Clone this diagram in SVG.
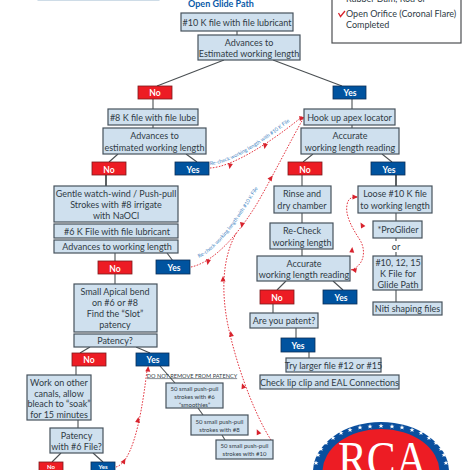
<svg xmlns="http://www.w3.org/2000/svg" xmlns:xlink="http://www.w3.org/1999/xlink" width="470" height="470" viewBox="0 0 470 470">
<style>
text{font-family:Lato,"Open Sans","Liberation Sans",sans-serif;fill:#2f3b45;font-size:9px;text-anchor:middle}
.b{fill:#cfe0ee;stroke:#46525c;stroke-width:1.200}
.no{fill:#ed1c24;stroke:#7a1a1c;stroke-width:.8}
.yes{fill:#00539f;stroke:#0c2d55;stroke-width:.8}
.t{font-weight:700;fill:#fff;font-size:8.500px}
.s{font-size:6px}
.c line{stroke:#4a4f52;stroke-width:1.100}
.d{fill:none;stroke:#e0202c;stroke-width:.9;stroke-dasharray:1.600 1.400}
.a{fill:#d8232d}
.rt{font-size:5.200px;fill:#3f86c4;text-anchor:start}
</style>
<defs>
<path id="ar" class="a" d="M-2.500 -2.500L3 0L-2.500 2.500Z"/>
<path id="st" fill="#fff" d="M0-2.600L.7-.8L2.500-.8L1.100.3L1.600 2.100L0 1L-1.600 2.100L-1.100.3L-2.500-.8L-.7-.8Z"/>
<path id="p1" d="M210 165C232 164 268 140 300 113"/>
<path id="p2" d="M199 258C222 246 240 218 268 172"/>
</defs>
<rect width="470" height="470" fill="#fff"/>
<rect id="topbar" x="38" y="-10" width="121" height="10" fill="#e6eff6" stroke="#9db9cf"/>
<g id="legend">
<rect x="332" y="-20" width="129" height="63" fill="#fff" stroke="#4d4f52" stroke-width="1.200"/>
<text x="346" y="2" style="text-anchor:start">Rubber Dam, Rod or</text>
<text x="346" y="17" style="text-anchor:start">Open Orifice (Coronal Flare)</text>
<text x="346" y="28" style="text-anchor:start">Completed</text>
<path d="M338.500 13L340.500 16.500L345 11" fill="none" stroke="#d8232d" stroke-width="1.300"/>
</g>
<text id="title" x="221" y="7" style="font-weight:700;fill:#0a5aa8;font-size:9px">Open Glide Path</text>
<g class="c" id="connectors">
<line x1="237" y1="31" x2="237" y2="35"/><line x1="224" y1="60" x2="157" y2="86"/><line x1="273" y1="60" x2="342" y2="86"/>
<line x1="153" y1="99" x2="153" y2="109"/><line x1="352" y1="99" x2="352" y2="109"/><line x1="153" y1="125" x2="153" y2="128"/><line x1="352" y1="125" x2="352" y2="128"/>
<line x1="118" y1="154" x2="109" y2="162"/><line x1="186" y1="154" x2="197" y2="162"/><line x1="313" y1="154" x2="303" y2="162"/><line x1="382" y1="154" x2="392" y2="162"/>
<line x1="106" y1="175" x2="106" y2="186" style="stroke-width:1.800px"/><line x1="302" y1="175" x2="302" y2="186"/><line x1="396" y1="175" x2="396" y2="186" style="stroke-width:1.800px"/>
<line x1="302" y1="213" x2="302" y2="223"/><line x1="302" y1="249" x2="302" y2="256"/><line x1="396" y1="213" x2="396" y2="221"/><line x1="396" y1="238" x2="396" y2="241"/><line x1="396" y1="252" x2="396" y2="256"/><line x1="396" y1="290" x2="396" y2="302"/>
<line x1="115" y1="253" x2="115" y2="261"/><line x1="167" y1="253" x2="173" y2="261"/><line x1="115" y1="274" x2="115" y2="284"/>
<line x1="90" y1="347" x2="80" y2="353"/><line x1="136" y1="347" x2="150" y2="353"/><line x1="76" y1="366" x2="76" y2="375"/><line x1="78" y1="420" x2="78" y2="428"/>
<line x1="61" y1="453" x2="52" y2="462"/><line x1="93" y1="453" x2="103" y2="462"/>
<line x1="160" y1="366" x2="175" y2="383"/><line x1="198" y1="408" x2="203" y2="415"/><line x1="222" y1="435" x2="225" y2="440"/>
<line x1="286" y1="281" x2="277" y2="290"/><line x1="333" y1="281" x2="343" y2="290"/><line x1="273" y1="304" x2="273" y2="313"/><line x1="296" y1="328" x2="296" y2="338"/><line x1="309" y1="352" x2="309" y2="358"/>
<path class="d" d="M210 168C232 167 270 143 303 116"/>
<path class="d" d="M191 267C215 262 240 232 258 202C275 172 290 142 303 119"/>
<path class="d" d="M271 440C255 415 238 370 229 330C222 300 220 260 237 232"/>
<path class="d" d="M351 270C365 265 366 250 360 240C352 228 345 215 347 205C348 198 352 197 357 197"/>
<path class="d" d="M116 467C130 463 140 430 147 370"/>
<use xlink:href="#ar" transform="translate(230 166) rotate(100)"/>
<use xlink:href="#ar" transform="translate(265 146) rotate(100)"/>
<use xlink:href="#ar" transform="translate(302 118) rotate(-10)"/>
<use xlink:href="#ar" transform="translate(208 262) rotate(100)"/>
<use xlink:href="#ar" transform="translate(242 225) rotate(100)"/>
<use xlink:href="#ar" transform="translate(271 178) rotate(-55)"/>
<use xlink:href="#ar" transform="translate(223 279) rotate(-90)"/>
<use xlink:href="#ar" transform="translate(231 334) rotate(-100)"/>
<use xlink:href="#ar" transform="translate(243 386) rotate(-110)"/>
<use xlink:href="#ar" transform="translate(258 432) rotate(-115)"/>
<use xlink:href="#ar" transform="translate(354 270) rotate(190)"/>
<use xlink:href="#ar" transform="translate(352 250) rotate(-85)"/>
<use xlink:href="#ar" transform="translate(362 225) rotate(-120)"/>
<use xlink:href="#ar" transform="translate(355 197)"/>
<use xlink:href="#ar" transform="translate(124 461) rotate(-60)"/>
<use xlink:href="#ar" transform="translate(138 420) rotate(-80)"/>
<use xlink:href="#ar" transform="translate(148 369) rotate(-85)"/>
</g>
<g class="rts">
<text class="rt"><textPath xlink:href="#p1">Re-check working length with #10 K File</textPath></text>
<text class="rt"><textPath xlink:href="#p2">Re-check working length with #10 K File</textPath></text>
</g>
<g id="n1"><rect class="b" x="181" y="13" width="112" height="18"/><text x="237" y="25.500">#10 K file with file lubricant</text></g>
<g id="n2"><rect class="b" x="198" y="35" width="102" height="25"/><text x="249" y="45.500">Advances to</text><text x="249" y="56.500">Estimated working length</text></g>
<g id="n3"><rect class="no" x="138" y="86" width="34" height="13"/><text class="t" x="155" y="96">No</text></g>
<g id="n4"><rect class="yes" x="333" y="86" width="33" height="13"/><text class="t" x="350" y="96">Yes</text></g>
<g id="n5"><rect class="b" x="108" y="109" width="90" height="16"/><text x="153" y="120.500">#8 K file with file lube</text></g>
<g id="n6"><rect class="b" x="304" y="109" width="91" height="16"/><text x="349.500" y="120.500">Hook up apex locator</text></g>
<g id="n7"><rect class="b" x="103" y="128" width="103" height="26"/><text x="154.500" y="139">Advances to</text><text x="154.500" y="151">estimated working length</text></g>
<g id="n8"><rect class="b" x="301" y="128" width="98" height="26"/><text x="350" y="139">Accurate</text><text x="350" y="151">working length reading</text></g>
<g id="n9"><rect class="no" x="92" y="162" width="34" height="13"/><text class="t" x="109" y="173">No</text></g>
<g id="n10"><rect class="yes" x="175" y="162" width="34" height="13"/><text class="t" x="193" y="173">Yes</text></g>
<g id="n11"><rect class="no" x="288" y="162" width="34" height="13"/><text class="t" x="305" y="173">No</text></g>
<g id="n12"><rect class="yes" x="371" y="162" width="34" height="13"/><text class="t" x="389" y="173">Yes</text></g>
<g id="n13"><rect class="b" x="54" y="186" width="124" height="36"/><text x="116" y="197">Gentle watch-wind / Push-pull</text><text x="116" y="208">Strokes with #8 irrigate</text><text x="116" y="219">with NaOCl</text></g>
<g id="n14"><rect class="b" x="54" y="224" width="124" height="14"/><text x="117" y="234.500">#6 K File with file lubricant</text></g>
<g id="n15"><rect class="b" x="54" y="240" width="124" height="13"/><text x="117" y="250">Advances to working length</text></g>
<g id="n16"><rect class="no" x="98" y="261" width="34" height="13"/><text class="t" x="115" y="271.500">No</text></g>
<g id="n17"><rect class="yes" x="156" y="260" width="34" height="14"/><text class="t" x="174" y="271">Yes</text></g>
<g id="n18"><rect class="b" x="274" y="186" width="57" height="27"/><text x="302" y="197">Rinse and</text><text x="302" y="208.500">dry chamber</text></g>
<g id="n19"><rect class="b" x="358" y="186" width="74" height="27"/><text x="395" y="197">Loose #10 K file</text><text x="395" y="208.500">to working length</text></g>
<g id="n20"><rect class="b" x="270" y="223" width="63" height="26"/><text x="302" y="234">Re-Check</text><text x="302" y="245.500">working length</text></g>
<g id="n21"><rect class="b" x="373" y="221" width="49" height="17"/><text x="398" y="233">*ProGlider</text></g>
<text x="396" y="250">or</text>
<g id="n22"><rect class="b" x="257" y="256" width="93" height="25"/><text x="304" y="267">Accurate</text><text x="304" y="278">working length reading</text></g>
<g id="n23"><rect class="b" x="373" y="256" width="49" height="34"/><text x="398" y="265.500">#10, 12, 15</text><text x="398" y="276.500">K File for</text><text x="398" y="287.500">Glide Path</text></g>
<g id="n24"><rect class="no" x="260" y="290" width="34" height="14"/><text class="t" x="277" y="300.500">No</text></g>
<g id="n25"><rect class="yes" x="323" y="290" width="34" height="14"/><text class="t" x="341" y="300.500">Yes</text></g>
<g id="n26"><rect class="b" x="373" y="302" width="69" height="13"/><text x="407.500" y="312">Niti shaping files</text></g>
<g id="n27"><rect class="b" x="250" y="313" width="68" height="15"/><text x="284" y="324">Are you patent?</text></g>
<g id="n28"><rect class="yes" x="281" y="338" width="34" height="14"/><text class="t" x="298" y="349">Yes</text></g>
<g id="n29"><rect class="b" x="286" y="358" width="95" height="14"/><text x="333.500" y="368.500">Try larger file #12 or #15</text></g>
<g id="n30"><rect class="b" x="260" y="375" width="139" height="14"/><text x="329.500" y="385.500">Check lip clip and EAL Connections</text></g>
<g id="n31"><rect class="b" x="74" y="284" width="83" height="48"/><text x="115" y="295">Small Apical bend</text><text x="115" y="306">on #6 or #8</text><text x="115" y="317">Find the “Slot”</text><text x="115" y="328">patency</text></g>
<g id="n32"><rect class="b" x="74" y="334" width="83" height="13"/><text x="115" y="344">Patency?</text></g>
<g id="n33"><rect class="no" x="72" y="353" width="34" height="13"/><text class="t" x="89" y="363">No</text></g>
<g id="n34"><rect class="yes" x="136" y="353" width="33" height="13"/><text class="t" x="153" y="363">Yes</text></g>
<g id="n35"><rect class="b" x="27" y="375" width="64" height="45"/><text x="59" y="385.500">Work on other</text><text x="59" y="396.500">canals, allow</text><text x="59" y="407">bleach to “soak”</text><text x="59" y="418">for 15 minutes</text></g>
<g id="n36"><rect class="b" x="50" y="428" width="53" height="25"/><text x="76.500" y="438.500">Patency</text><text x="76.500" y="449.500">with #6 File?</text></g>
<g id="n37"><rect class="no" x="39" y="462" width="24" height="14"/><text class="t" x="51" y="469" style="font-size:6px">No</text></g>
<g id="n38"><rect class="yes" x="91" y="462" width="24" height="14"/><text class="t" x="103" y="469" style="font-size:6px">Yes</text></g>
<text id="warn" class="s" x="192" y="377.500" style="text-decoration:underline;font-size:5.600px">DO NOT REMOVE FROM PATENCY</text>
<g id="n39"><rect class="b" x="166" y="383" width="57" height="25"/><text class="s" x="194.500" y="391">50 small push-pull</text><text class="s" x="194.500" y="399">strokes with #6</text><text class="s" x="194.500" y="407">“smoothies”</text></g>
<g id="n40"><rect class="b" x="191" y="415" width="57" height="20"/><text class="s" x="219.500" y="423.500">50 small push-pull</text><text class="s" x="219.500" y="431.500">strokes with #8</text></g>
<g id="n41"><rect class="b" x="216" y="440" width="57" height="19"/><text class="s" x="244.500" y="448">50 small push-pull</text><text class="s" x="244.500" y="456">strokes with #10</text></g>
<g id="logo">
<ellipse cx="381" cy="472" rx="68" ry="50" fill="#0a4f9e"/>
<ellipse cx="381" cy="472" rx="58.500" ry="43" fill="#ed1c24"/>
<use xlink:href="#st" x="381" y="426"/><use xlink:href="#st" x="370" y="426.500"/><use xlink:href="#st" x="392" y="426.500"/><use xlink:href="#st" x="360" y="427.500"/><use xlink:href="#st" x="402" y="427.500"/><use xlink:href="#st" x="350" y="430"/><use xlink:href="#st" x="412" y="430"/><use xlink:href="#st" x="341" y="433"/><use xlink:href="#st" x="421" y="433"/><use xlink:href="#st" x="333" y="438"/><use xlink:href="#st" x="429" y="438"/><use xlink:href="#st" x="326" y="443"/><use xlink:href="#st" x="436" y="443"/><use xlink:href="#st" x="321" y="449"/><use xlink:href="#st" x="441" y="449"/><use xlink:href="#st" x="318" y="455"/><use xlink:href="#st" x="444" y="455"/><use xlink:href="#st" x="316" y="463"/><use xlink:href="#st" x="446" y="463"/>
<text x="382.500" y="476" textLength="89" lengthAdjust="spacingAndGlyphs" style="font-family:'Liberation Serif',serif;font-size:50px;fill:#fff">RCA</text>
</g>
</svg>
